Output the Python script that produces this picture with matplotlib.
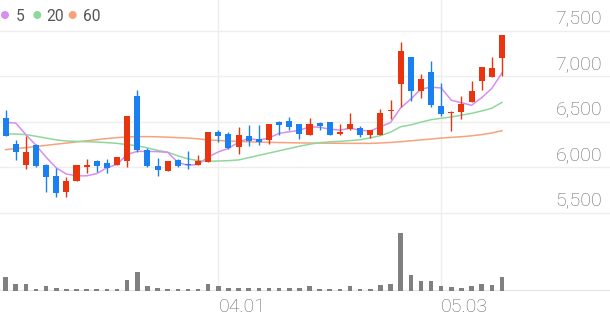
import matplotlib
matplotlib.use('Agg')
import matplotlib.pyplot as plt
import numpy as np
from matplotlib.patches import Circle

# ---------------- data ----------------
opens  = [6540, 6255, 6029, 6248, 6022, 5901, 5730, 5843, 6000, 6066,
          6044, 6029, 6073, 6777, 6186, 6011, 5963, 6077, 6040, 6022,
          6058, 6387, 6369, 6226, 6347, 6314, 6303, 6493, 6504, 6474,
          6358, 6485, 6496, 6370, 6423, 6430, 6358, 6354, 6613, 6912,
          7215, 6839, 7051, 6668, 6591, 6606, 6715, 6949, 6996, 7197]
highs  = [6631, 6296, 6347, 6255, 6040, 5993, 5894, 6029, 6095, 6084,
          6091, 6109, 6566, 6843, 6215, 6102, 6073, 6091, 6182, 6138,
          6387, 6405, 6383, 6442, 6467, 6460, 6474, 6511, 6551, 6474,
          6540, 6496, 6496, 6474, 6595, 6449, 6412, 6640, 6741, 7380,
          7215, 7022, 7168, 6923, 6620, 6777, 6949, 7106, 7215, 7453]
lows   = [6347, 6084, 5985, 6005, 5730, 5671, 5671, 5843, 5938, 5949,
          5938, 6029, 6000, 6168, 6000, 5901, 5963, 6000, 5984, 6022,
          6055, 6277, 6204, 6140, 6230, 6248, 6255, 6358, 6412, 6314,
          6355, 6412, 6358, 6358, 6412, 6332, 6321, 6350, 6533, 6657,
          6722, 6759, 6657, 6558, 6394, 6533, 6715, 6850, 6996, 7007]
closes = [6347, 6164, 6171, 6011, 5894, 5719, 5847, 6029, 6029, 6011,
          5993, 6109, 6566, 6193, 6011, 5974, 6073, 6018, 6022, 6066,
          6387, 6347, 6212, 6358, 6285, 6277, 6474, 6467, 6442, 6365,
          6474, 6449, 6358, 6390, 6474, 6358, 6412, 6592, 6624, 7277,
          6839, 6971, 6686, 6584, 6602, 6697, 6832, 7106, 7095, 7453]

ma5  = [6493, 6485, 6358, 6241, 6110, 5993, 5925, 5905, 5905, 5930,
        5995, 6030, 6140, 6174, 6174, 6171, 6163, 6054, 6020, 6031,
        6113, 6168, 6207, 6274, 6318, 6296, 6321, 6372, 6389, 6405,
        6444, 6439, 6418, 6407, 6429, 6406, 6398, 6445, 6491, 6652,
        6748, 6860, 6879, 6871, 6736, 6708, 6680, 6764, 6866, 7037]
ma20 = [6365, 6365, 6358, 6340, 6320, 6300, 6288, 6284, 6280, 6276,
        6270, 6262, 6248, 6235, 6212, 6185, 6165, 6125, 6092, 6072,
        6066, 6068, 6072, 6080, 6105, 6130, 6155, 6180, 6205, 6230,
        6252, 6270, 6278, 6284, 6292, 6302, 6322, 6347, 6385, 6445,
        6465, 6495, 6522, 6538, 6552, 6572, 6592, 6618, 6648, 6712]
ma60 = [6193, 6205, 6215, 6228, 6240, 6253, 6265, 6278, 6290, 6302,
        6315, 6325, 6332, 6336, 6336, 6334, 6330, 6325, 6320, 6312,
        6300, 6294, 6288, 6283, 6279, 6276, 6273, 6271, 6269, 6267,
        6266, 6265, 6264, 6263, 6262, 6262, 6262, 6266, 6272, 6280,
        6290, 6300, 6310, 6320, 6328, 6335, 6345, 6358, 6376, 6401]

volumes = [123000, 60000, 60000, 18000, 48000, 24000, 15000, 15000, 15000, 15000,
           15000, 15000, 96000, 168000, 48000, 24000, 15000, 15000, 15000, 15000,
           63000, 48000, 30000, 30000, 30000, 30000, 30000, 30000, 30000, 30000,
           48000, 18000, 18000, 18000, 45000, 18000, 18000, 54000, 60000, 519000,
           144000, 90000, 90000, 48000, 39000, 24000, 48000, 63000, 54000, 129000]

price_ticks = [5500, 6000, 6500, 7000, 7500]
date_labels = ['04.01', '05.03']
date_index = [21, 43]
ma_labels = ['5', '20', '60']

# ---------------- style ----------------
W, H = 610, 318
RED, BLUE = '#e8340f', '#1a80f0'
MA_COLORS = ['#d68ef0', '#8fd89c', '#f6a27c']
GRID = '#eeeeee'
TXT = '#686868'
FONT = 'Roboto'

fig = plt.figure(figsize=(W / 100, H / 100), dpi=100)
fig.patch.set_facecolor('white')

def px_axes(x0, y0, x1, y1):
    return fig.add_axes([x0 / W, 1 - y1 / H, (x1 - x0) / W, (y1 - y0) / H])

ax = px_axes(0, 0, W, 215)
axv = px_axes(0, 215, W, 291)

n = len(closes)
x = np.arange(n)
step, first = 10.13, 5.6
xlim = (-first / step, (W - first) / step)

# price scale: 45.5 px per 500, 7500 at y=30.7
pp = 500 / 45.5
ax.set_xlim(*xlim)
ax.set_ylim(7500 - (215 - 30.7) * pp, 7500 + 30.7 * pp)
for a in (ax, axv):
    a.set_facecolor('none')
    for s in a.spines.values():
        s.set_visible(False)
    a.tick_params(left=False, right=False, labelleft=False, labelright=False)

ax.set_xticks([])
ax.set_yticks([])

for p in price_ticks:
    ax.axhline(p, color=GRID, lw=1.0, zorder=0)
    ax.annotate(f"{p:,}", xy=(1, p), xycoords=('axes fraction', 'data'),
                xytext=(-5.8, 5.3), textcoords='offset points',
                ha='right', va='baseline', fontsize=14, color=TXT,
                family=FONT, fontweight='light')

for d in date_index:
    ax.axvline(d, color=GRID, lw=1.0, zorder=0)
    axv.axvline(d, color=GRID, lw=1.0, zorder=0)

# moving averages
for vals, c in zip([ma60, ma20, ma5], MA_COLORS[::-1]):
    ax.plot(x, vals, color=c, lw=1.1, zorder=2, solid_joinstyle='round')

o = np.array(opens); c = np.array(closes)
hi = np.array(highs); lo = np.array(lows)
up = c >= o
cols = [RED if u else BLUE for u in up]
ax.vlines(x, lo, hi, colors=cols, lw=1.0, zorder=3)
body_bottom = np.minimum(o, c)
body_h = np.maximum(np.abs(c - o), 14)
ax.bar(x, body_h, bottom=body_bottom, width=0.6, color=cols, zorder=4, linewidth=0)

# volume
axv.set_xlim(*xlim)
vmax = max(volumes)
axv.set_ylim(0, vmax * 76 / 57.7)
axv.bar(x, volumes, width=0.45, color='#808080', zorder=3, linewidth=0)
axv.axhline(0, color='#e4e4e4', lw=1.5, zorder=1)
axv.set_yticks([])
axv.set_xticks(date_index)
axv.set_xticklabels(date_labels, ha='left', fontsize=14, color=TXT,
                    family=FONT, fontweight='light')
axv.tick_params(axis='x', length=0, pad=5.3)

# legend overlay (pixel coordinates)
axo = fig.add_axes([0, 0, 1, 1])
axo.set_xlim(0, W)
axo.set_ylim(H, 0)
axo.axis('off')
for cx, tx, lbl, col in zip([5, 37.3, 72.7], [16, 46.5, 82.7], ma_labels, MA_COLORS):
    axo.add_patch(Circle((cx, 15), 4, color=col, linewidth=0))
    axo.text(tx, 20.7, lbl, ha='left', va='baseline', fontsize=11.2,
             color='#555555', family=FONT)

fig.savefig('out.png', dpi=100, facecolor='white')
